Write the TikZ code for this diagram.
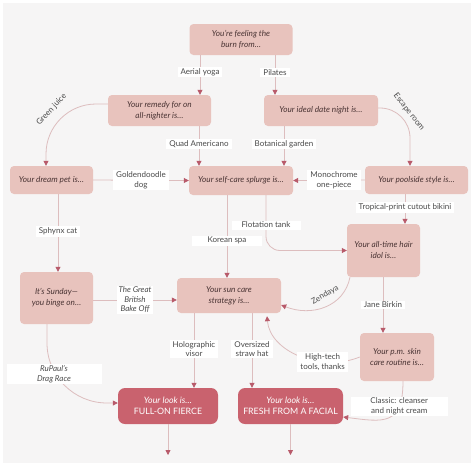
\documentclass[tikz,border=0pt]{standalone}
\usepackage{fontspec}
\setmainfont{Lato}
\usetikzlibrary{arrows.meta}
\definecolor{bg}{HTML}{F6F5F5}
\definecolor{lnode}{HTML}{E8C3BD}
\definecolor{dnode}{HTML}{C9626E}
\definecolor{ntext}{HTML}{4A3434}
\definecolor{linec}{HTML}{DDBDBE}
\definecolor{arrc}{HTML}{B85A6A}
\definecolor{ltext}{HTML}{4A4A4A}
\tikzset{
  q/.style={fill=lnode, rounded corners=4pt, align=center, font=\fontsize{8.2}{11}\selectfont\itshape, text=ntext, inner sep=0pt},
  res/.style={fill=dnode, rounded corners=7pt, align=center, font=\fontsize{8.8}{11.5}\selectfont, text=white, inner sep=0pt},
  lab/.style={sharp corners, fill=white, text=ltext, font=\fontsize{8}{9.5}\selectfont, align=center, inner xsep=3pt, inner ysep=1.5pt},
  ilab/.style={lab, font=\fontsize{8}{9.5}\selectfont\itshape},
  rlab/.style={text=ltext, font=\fontsize{8}{9.5}\selectfont, inner sep=0pt},
  conn/.style={draw=linec, line width=0.8pt, -{Triangle[length=5pt,width=5pt,color=arrc]}},
}
\begin{document}
\begin{tikzpicture}[x=1pt,y=-1pt]
\useasboundingbox (0,0) rectangle (474,467);
\fill[white] (0,0) rectangle (474,467);
\fill[bg] (3,3) rectangle (471,463);

% nodes
\node[q, minimum width=103pt, minimum height=31pt] (top) at (241,39.5) {You’re feeling the\\burn from…};
\node[q, minimum width=103pt, minimum height=31pt] (rem) at (159.5,110.5) {Your remedy for on\\all-nighter is…};
\node[q, minimum width=114pt, minimum height=31pt] (date) at (321,110.5) {Your ideal date night is…};
\node[q, minimum width=83pt, minimum height=28pt] (pet) at (51.5,180) {Your dream pet is…};
\node[q, minimum width=104pt, minimum height=29pt] (self) at (241,180.5) {Your self-care splurge is…};
\node[q, minimum width=103pt, minimum height=28pt] (pool) at (416.5,180) {Your poolside style is…};
\node[q, minimum width=73pt, minimum height=53pt] (hair) at (383.5,250.5) {Your all-time hair\\idol is…};
\node[q, minimum width=73pt, minimum height=52pt] (sunday) at (56.5,298) {It’s Sunday—\\you binge on…};
\node[q, minimum width=104pt, minimum height=35pt] (sun) at (229,295.5) {Your sun care\\strategy is…};
\node[q, minimum width=74pt, minimum height=48pt] (pm) at (397,357) {Your p.m. skin\\care routine is…};
\node[res, minimum width=100pt, minimum height=36pt] (fierce) at (168,406) {\textit{Your look is…}\\FULL-ON FIERCE};
\node[res, minimum width=105pt, minimum height=36pt] (facial) at (290.5,406) {\textit{Your look is…}\\FRESH FROM A FACIAL};
\coordinate (endA) at (168,455);
\coordinate (endB) at (290.5,455);

% connectors
\draw[conn] ([xshift=-41pt]top.south) -- ([xshift=40.5pt]rem.north) node[lab,pos=0.43] (l1) {Aerial yoga};
\draw[conn] ([xshift=34pt]top.south) -- ([xshift=-46pt]date.north) node[lab,pos=0.43] (l2) {Pilates};
\draw[conn, rounded corners=50pt] ([yshift=6.5pt]rem.west) -| ([xshift=-5.5pt]pet.north);
\node[rlab, rotate=47] (l3) at (51.5,109.5) {Green juice};
\draw[conn] ([xshift=39.5pt]rem.south) -- ([xshift=-42pt]self.north) node[lab,pos=0.45] (l4) {Quad Americano};
\draw[conn] ([xshift=-37pt]date.south) -- ([xshift=43pt]self.north) node[lab,pos=0.45] (l5) {Botanical garden};
\draw[conn, rounded corners=30pt] ([yshift=2.5pt]date.east) -| ([xshift=-6.5pt]pool.north);
\node[rlab, rotate=-52] (l6) at (409,112) {Escape room};
\draw[conn] (pet.east) -- (self.west) node[lab,pos=0.5] (l7) {Goldendoodle\\dog};
\draw[conn] (pool.west) -- (self.east) node[lab,pos=0.43] (l8) {Monochrome\\one-piece};
\draw[conn] ([xshift=-11.5pt]pool.south) -- ([xshift=21.5pt]hair.north) node[lab,pos=0.45] (l9) {Tropical-print cutout bikini};
\draw[conn, rounded corners=14pt] ([xshift=25pt]self.south) |- (hair.west) node[lab,pos=0.27,minimum width=69pt] (l10) {Flotation tank};
\draw[conn] ([xshift=-14pt]self.south) -- ([xshift=-2pt]sun.north) node[lab,pos=0.55,minimum width=70pt] (l11) {Korean spa};
\draw[conn] ([xshift=6.5pt]pet.south) -- ([xshift=1.5pt]sunday.north) node[lab,pos=0.48] (l12) {Sphynx cat};
\draw[conn] ([yshift=-2pt]sunday.east) -- ([yshift=-4.5pt]sun.west) node[ilab,pos=0.5,inner xsep=2pt] (l13) {The Great\\British\\Bake Off};
\draw[conn] ([xshift=-33.5pt]hair.south) .. controls +(-6,30) and +(30,12) .. ([yshift=-9.5pt]sun.east);
\node[rlab, rotate=30] (l14) at (325,295) {Zendaya};
\draw[conn] ([xshift=-0.5pt]hair.south) -- ([xshift=-14pt]pm.north) node[lab,pos=0.5] (l15) {Jane Birkin};
\draw[conn] (pm.west) .. controls +(-40,16) and +(3,35) .. ([xshift=38pt,yshift=-3pt]sun.south) node[lab,pos=0.3] (l16) {High-tech\\tools, thanks};
\draw[conn] ([xshift=6pt]pm.south) .. controls +(0,45) and +(40,5) .. ([yshift=-11pt]facial.east) node[lab,pos=0.25,minimum width=97pt] (l17) {Classic: cleanser\\and night cream};
\draw[conn] ([xshift=-35pt]sun.south) -- ([xshift=26pt]fierce.north) node[lab,pos=0.48] (l18) {Holographic\\visor};
\draw[conn] ([xshift=23pt]sun.south) -- ([xshift=-38.5pt]facial.north) node[lab,pos=0.48] (l19) {Oversized\\straw hat};
\draw[conn, rounded corners=60pt] ([xshift=-9.5pt]sunday.south) |- ([yshift=3pt]fierce.west);
\node[ilab, minimum width=95pt] (l20) at (54,374) {RuPaul’s\\Drag Race};
\draw[conn] (fierce.south) -- (endA);
\draw[conn] (facial.south) -- (endB);
\end{tikzpicture}
\end{document}
